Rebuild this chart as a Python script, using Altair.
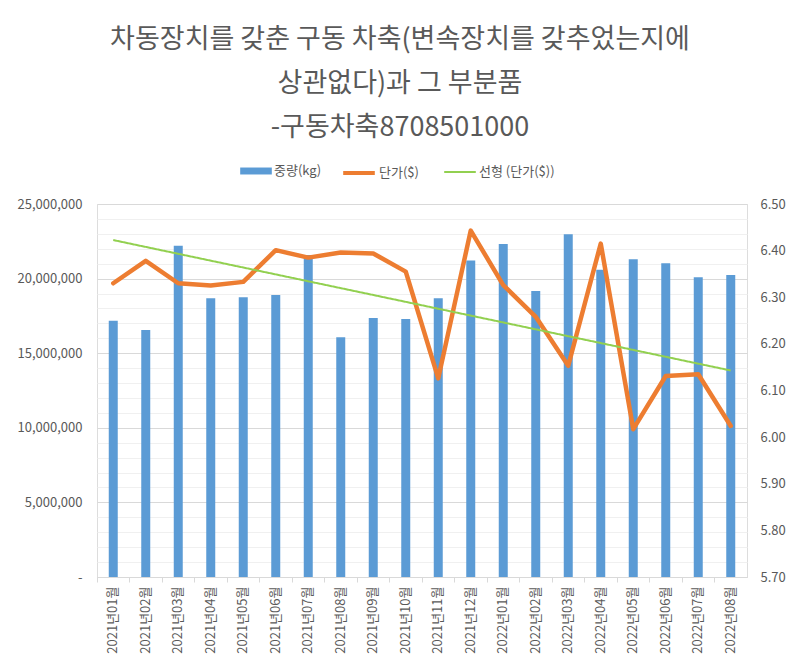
import altair as alt
import pandas as pd

FONT = "Noto Sans CJK KR"
TXT = "#595959"

months = ["2021년01월", "2021년02월", "2021년03월", "2021년04월", "2021년05월",
          "2021년06월", "2021년07월", "2021년08월", "2021년09월", "2021년10월",
          "2021년11월", "2021년12월", "2022년01월", "2022년02월", "2022년03월",
          "2022년04월", "2022년05월", "2022년06월", "2022년07월", "2022년08월"]
weights = [17180000, 16550000, 22200000, 18680000, 18750000, 18900000, 21580000,
           16070000, 17360000, 17290000, 18680000, 21220000, 22320000, 19170000,
           22970000, 20600000, 21290000, 21030000, 20090000, 20240000]
prices = [6.330, 6.378, 6.330, 6.325, 6.333, 6.401, 6.385, 6.396, 6.394, 6.355,
          6.126, 6.443, 6.326, 6.258, 6.153, 6.415, 6.017, 6.131, 6.135, 6.024]
series = ["중량(kg)", "단가($)", "선형 (단가($))"]
series_colors = ["#5B9BD5", "#ED7D31", "#92D050"]
title_lines = ["차동장치를 갖춘 구동 차축(변속장치를 갖추었는지에", "상관없다)과 그 부분품", "-구동차축8708501000"]

df = pd.DataFrame({"month": months, "weight": weights, "price": prices,
                   "idx": list(range(len(months)))})

left_ticks = list(range(0, 25000001, 1000000))
right_ticks = [round(5.7 + 0.1 * i, 2) for i in range(9)]

xenc = alt.X("month:N", sort=months, title=None,
             scale=alt.Scale(paddingInner=0, paddingOuter=0),
             axis=alt.Axis(labelAngle=-90, labelFontSize=13, labelFont=FONT, labelColor=TXT,
                           domainColor="#d9d9d9", tickColor="#d9d9d9", tickSize=5,
                           bandPosition=0, labelPadding=4, grid=False))


def make_legend(x, **kw):
    return alt.Legend(title=None, orient="none", legendX=x, legendY=-49,
                      direction="horizontal", labelFontSize=13, labelFont=FONT,
                      labelColor=TXT, symbolSize=1000, labelOffset=2, **kw)


bars = alt.Chart(df).transform_calculate(s=f"'{series[0]}'").mark_bar(size=9).encode(
    x=xenc,
    y=alt.Y("weight:Q", title=None,
            scale=alt.Scale(domain=[0, 25000000], nice=False),
            axis=alt.Axis(values=left_ticks, orient="left", labelFontSize=13, labelFont=FONT,
                          labelColor=TXT, labelPadding=15, ticks=False, domain=False,
                          labelOverlap=False,
                          labelExpr="datum.value === 0 ? '-' : (datum.value % 5000000 === 0 ? format(datum.value, ',') : '')",
                          gridColor={"condition": {"test": "datum.value % 5000000 === 0", "value": "#d9d9d9"},
                                     "value": "#f0f0f0"})),
    color=alt.Color("s:N",
                    scale=alt.Scale(domain=[series[0]], range=[series_colors[0]]),
                    legend=make_legend(143, symbolType="M-1,-0.22H1V0.22H-1Z",
                                       symbolStrokeWidth=0)),
)

yright = alt.Y("price:Q", title=None,
               scale=alt.Scale(domain=[5.7, 6.5], nice=False, zero=False),
               axis=alt.Axis(values=right_ticks, orient="right", format=".2f", labelFontSize=13,
                             labelFont=FONT, labelColor=TXT, labelPadding=13, ticks=False,
                             domain=False, grid=False))

line = alt.Chart(df).transform_calculate(s=f"'{series[1]}'").mark_line(
    strokeWidth=4.5, strokeJoin="round", strokeCap="round").encode(
    x=xenc, y=yright,
    stroke=alt.Stroke("s:N",
                      scale=alt.Scale(domain=[series[1]], range=[series_colors[1]]),
                      legend=make_legend(244, symbolType="stroke", symbolStrokeWidth=4)),
)

months_js = "[" + ",".join(f"'{m}'" for m in months) + "]"
trend = alt.Chart(df).transform_regression("idx", "price", method="linear").transform_calculate(
    month=f"{months_js}[round(datum.idx)]", t=f"'{series[2]}'"
).mark_line(strokeWidth=2, color=series_colors[2]).encode(
    x=xenc, y=yright,
    strokeDash=alt.StrokeDash("t:N",
                              scale=alt.Scale(domain=[series[2]], range=[[1, 0]]),
                              legend=make_legend(346, symbolType="stroke", symbolStrokeWidth=2,
                                                 symbolStrokeColor=series_colors[2])),
)

chart = alt.layer(bars, alt.layer(line, trend)).resolve_scale(y="independent").properties(
    width=650, height=373,
    padding={"left": 97, "top": 204, "right": 53, "bottom": 93},
    autosize=alt.AutoSizeParams(type="none"),
    title=alt.TitleParams(text=title_lines, fontSize=27, font=FONT, color=TXT,
                          fontWeight="normal", lineHeight=44, anchor="middle",
                          dx=-22, offset=13),
).configure_view(stroke=None).configure(background="white")

chart.save("out.html", embed_options={"renderer": "svg", "actions": False})
